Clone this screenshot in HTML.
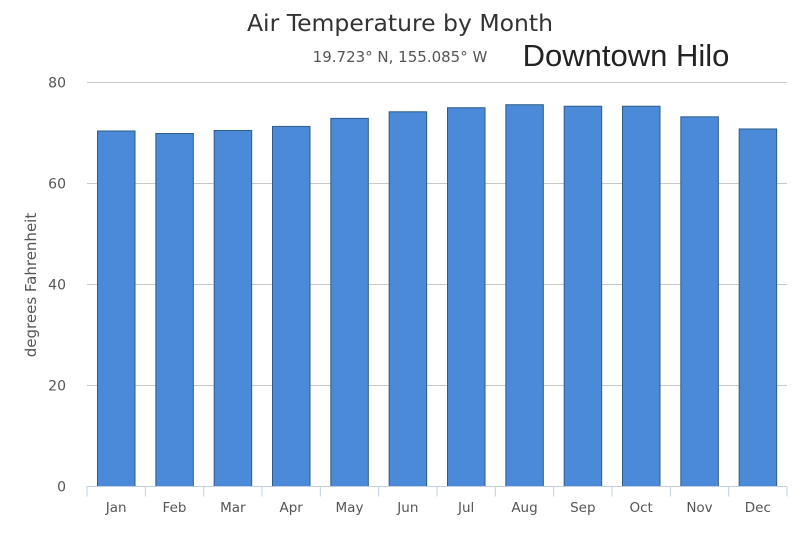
<!DOCTYPE html>
<html><head><meta charset="utf-8"><style>
body{margin:0;background:#fff;font-family:"DejaVu Sans",sans-serif;}
</style></head><body>
<svg id="chart" width="800" height="533" xmlns="http://www.w3.org/2000/svg" font-family="DejaVu Sans, sans-serif">
<text x="400" y="31" text-anchor="middle" font-size="23.5" fill="#333">Air Temperature by Month</text>
<text x="400" y="62" text-anchor="middle" font-size="15" fill="#555">19.723° N, 155.085° W</text>
<text x="626" y="66" text-anchor="middle" font-size="31" font-family="Liberation Sans, sans-serif" fill="#222">Downtown Hilo</text>
<text transform="translate(36,285) rotate(-90)" text-anchor="middle" font-size="15" fill="#555">degrees Fahrenheit</text>
<g id="grid"></g><g id="bars"></g><g id="axis"></g>
</svg>
<script>
const categories=["Jan","Feb","Mar","Apr","May","Jun","Jul","Aug","Sep","Oct","Nov","Dec"];
const temps=[70.4,69.9,70.5,71.3,72.9,74.2,75.0,75.6,75.3,75.3,73.2,70.8];
const yTicks=[0,20,40,60,80];
const ns="http://www.w3.org/2000/svg";
const x0=87,x1=787,yB=486.5,yT=82.5,yMax=80;
const cw=(x1-x0)/categories.length;
const y=v=>yB-(v/yMax)*(yB-yT);
function mk(t,a,p){const e=document.createElementNS(ns,t);for(const k in a)e.setAttribute(k,a[k]);p.appendChild(e);return e;}
const grid=document.getElementById('grid'),bars=document.getElementById('bars'),axis=document.getElementById('axis');
yTicks.forEach(t=>{
 if(t>0){const l=mk('line',{x1:x0,x2:x1,y1:y(t),y2:y(t),stroke:'#c8c8c8','stroke-width':1},grid);
 
 }
 const tx=mk('text',{x:66,y:y(t)+5,'text-anchor':'end','font-size':14,fill:'#555'},grid);tx.textContent=t;
 
 
});
categories.forEach((c,i)=>{
 const bx=x0+i*cw+10.5,bw=37.5;
 const r=mk('rect',{x:bx,y:y(temps[i]),width:bw,height:yB-y(temps[i]),fill:'#4a8ad8',stroke:'#2e5c86','stroke-width':1},bars);
 
 
 const tl=mk('line',{x1:x0+i*cw,x2:x0+i*cw,y1:yB,y2:yB+10,stroke:'#c0d0e0'},axis);
 
 
 const tx=mk('text',{x:x0+i*cw+cw/2,y:512,'text-anchor':'middle','font-size':13.5,fill:'#555'},axis);tx.textContent=c;
 
 
});
const lt=mk('line',{x1:x1,x2:x1,y1:yB,y2:yB+10,stroke:'#c0d0e0'},axis);


const ax=mk('line',{x1:x0,x2:x1,y1:yB,y2:yB,stroke:'#c0d0e0','stroke-width':1},axis);


</script>
</body></html>
